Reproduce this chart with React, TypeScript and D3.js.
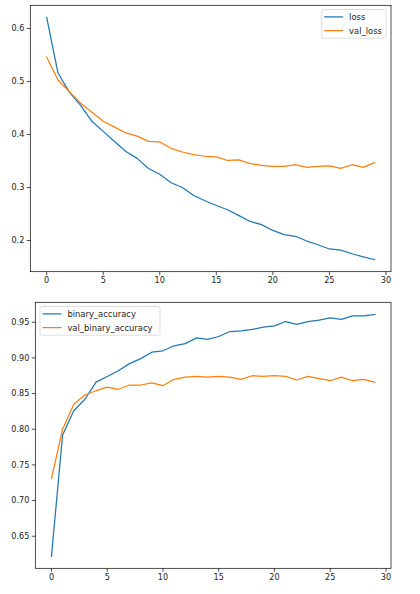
import React from "react";
import * as d3 from "d3";

const epochs = d3.range(30);
const loss = [0.621,0.516,0.480,0.455,0.425,0.406,0.387,0.368,0.355,0.336,0.325,0.309,0.300,0.285,0.275,0.266,0.258,0.247,0.236,0.230,0.219,0.211,0.208,0.199,0.192,0.184,0.182,0.175,0.169,0.164];
const valLoss = [0.546,0.503,0.481,0.459,0.442,0.425,0.414,0.403,0.397,0.387,0.386,0.374,0.367,0.362,0.359,0.358,0.351,0.352,0.345,0.342,0.340,0.340,0.343,0.338,0.340,0.341,0.336,0.343,0.338,0.347];
const acc = [0.622,0.792,0.826,0.842,0.866,0.874,0.882,0.892,0.899,0.908,0.910,0.917,0.920,0.928,0.926,0.930,0.937,0.938,0.940,0.943,0.945,0.951,0.947,0.951,0.953,0.956,0.954,0.959,0.959,0.961];
const valAcc = [0.731,0.800,0.835,0.848,0.854,0.859,0.856,0.862,0.862,0.865,0.861,0.870,0.873,0.874,0.873,0.874,0.873,0.870,0.875,0.874,0.875,0.874,0.869,0.874,0.871,0.868,0.873,0.868,0.870,0.866];

const xTicks = [0, 5, 10, 15, 20, 25, 30];
const lossTicks = [0.2, 0.3, 0.4, 0.5, 0.6];
const accTicks = [0.65, 0.70, 0.75, 0.80, 0.85, 0.90, 0.95];

const C1 = "#1f77b4";
const C2 = "#ff7f0e";
const FONT = "DejaVu Sans, sans-serif";
const FS = 8.1;
const LFS = 8.4;

type Series = { name: string; values: number[]; color: string };

function Panel(props: {
  left: number; top: number; right: number; bottom: number;
  series: Series[]; yTicks: number[]; yFmt: (v: number) => string;
  legend: "ur" | "ul"; legendW: number;
}) {
  const { left, top, right, bottom, series, yTicks, yFmt, legend, legendW } = props;
  const all = series.flatMap((s) => s.values);
  const [mn, mx] = d3.extent(all) as [number, number];
  const m = (mx - mn) * 0.05;
  const y = d3.scaleLinear().domain([mn - m, mx + m]).range([bottom, top]);
  const x = d3.scaleLinear().domain([-1.45, 30.45]).range([left, right]);
  const line = d3.line<number>().x((_, i) => x(epochs[i])).y((d) => y(d));

  const lw = legendW;
  const lh = 28.7;
  const lx = legend === "ur" ? right - 5 - lw : left + 4.7;
  const ly = top + 4.2;

  return (
    <g>
      {yTicks.map((t) => (
        <g key={t}>
          <line x1={left - 3.5} x2={left} y1={y(t)} y2={y(t)} stroke="#000" strokeWidth={0.7} />
          <text x={left - 6} y={y(t)} dy="0.35em" textAnchor="end" fontSize={FS} fontFamily={FONT} fill="#222">{yFmt(t)}</text>
        </g>
      ))}
      {xTicks.map((t) => (
        <g key={t}>
          <line x1={x(t)} x2={x(t)} y1={bottom} y2={bottom + 3.5} stroke="#000" strokeWidth={0.7} />
          <text x={x(t)} y={bottom + 5.5} dy="0.76em" textAnchor="middle" fontSize={FS} fontFamily={FONT} fill="#222">{t}</text>
        </g>
      ))}
      {series.map((s) => (
        <path key={s.name} d={line(s.values) as string} fill="none" stroke={s.color} strokeWidth={1.25} strokeLinejoin="round" strokeLinecap="square" />
      ))}
      <rect x={left} y={top} width={right - left} height={bottom - top} fill="none" stroke="#000" strokeWidth={0.7} />
      <rect x={lx} y={ly} width={lw} height={lh} rx={2} fill="#fff" fillOpacity={0.8} stroke="#d0d0d0" strokeWidth={0.7} />
      {series.map((s, i) => {
        const yy = ly + 7.4 + i * 13.7;
        return (
          <g key={s.name}>
            <line x1={lx + 2.5} x2={lx + 21.5} y1={yy} y2={yy} stroke={s.color} strokeWidth={1.25} />
            <text x={lx + 27.4} y={yy} dy="0.35em" fontSize={LFS} fontFamily={FONT} fill="#222">{s.name}</text>
          </g>
        );
      })}
    </g>
  );
}

export default function App() {
  return (
    <svg width={420} height={594} style={{ position: "absolute", left: 0, top: 0, background: "#fff" }}>
      <rect width={420} height={594} fill="#fff" />
      <Panel
        left={30.3} top={5.3} right={391} bottom={271.7}
        series={[{ name: "loss", values: loss, color: C1 }, { name: "val_loss", values: valLoss, color: C2 }]}
        yTicks={lossTicks} yFmt={d3.format(".1f")} legend="ur" legendW={64.3}
      />
      <Panel
        left={35.3} top={302.3} right={391} bottom={568.3}
        series={[{ name: "binary_accuracy", values: acc, color: C1 }, { name: "val_binary_accuracy", values: valAcc, color: C2 }]}
        yTicks={accTicks} yFmt={d3.format(".2f")} legend="ul" legendW={120}
      />
    </svg>
  );
}
